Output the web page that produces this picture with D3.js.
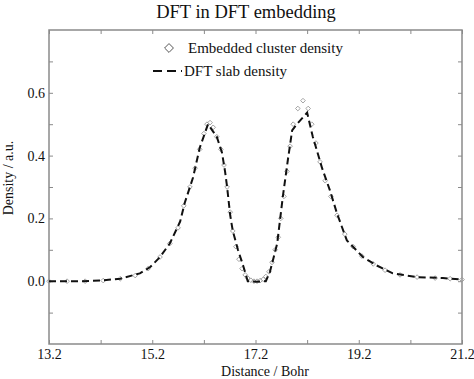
<!DOCTYPE html>
<html><head><meta charset="utf-8">
<script src="https://cdn.jsdelivr.net/npm/d3@7"></script>
<style>
html,body{margin:0;padding:0;background:#fff;}
svg{display:block;}
text{font-family:"Liberation Serif","Times New Roman",serif;fill:#111;}
</style></head>
<body>
<script>
// ---- data ----
const slabX = [13.2,13.8,14.19,14.58,14.96,15.16,15.35,15.54,15.74,15.83,15.99,16.12,16.28,16.45,16.51,16.55,16.61,16.65,16.71,16.76,16.86,16.96,17.05,17.23,17.40,17.48,17.62,17.73,17.83,17.91,18.00,18.20,18.31,18.49,18.64,18.78,18.97,19.28,19.55,19.86,20.33,20.83,21.2];
const slabY = [0.0,0.0,0.002,0.008,0.025,0.045,0.077,0.12,0.19,0.25,0.33,0.425,0.50,0.46,0.43,0.41,0.35,0.30,0.21,0.16,0.10,0.05,0.0,-0.002,0.0,0.03,0.12,0.27,0.39,0.48,0.50,0.537,0.46,0.36,0.29,0.215,0.13,0.077,0.05,0.025,0.013,0.01,0.005];

const clusterX = [13.2,13.55,13.9,14.25,14.58,14.87,15.12,15.35,15.54,15.70,15.81,15.93,16.03,16.12,16.20,16.26,16.32,16.38,16.45,16.53,16.59,16.65,16.71,16.76,16.82,16.88,16.94,17.0,17.05,17.11,17.17,17.23,17.29,17.35,17.40,17.46,17.52,17.58,17.64,17.69,17.75,17.81,17.87,17.93,18.02,18.12,18.22,18.29,18.37,18.45,18.55,18.66,18.78,18.93,19.09,19.26,19.48,19.71,20.0,20.33,20.68,20.97,21.2];
const clusterY = [0.0,0.0,0.0,0.002,0.008,0.018,0.04,0.077,0.12,0.17,0.24,0.30,0.36,0.42,0.47,0.50,0.505,0.49,0.46,0.42,0.37,0.30,0.22,0.16,0.11,0.07,0.04,0.02,0.01,0.003,0.0,0.0,0.002,0.006,0.015,0.03,0.06,0.10,0.14,0.20,0.27,0.35,0.43,0.50,0.55,0.575,0.55,0.50,0.44,0.38,0.32,0.27,0.21,0.15,0.11,0.08,0.055,0.035,0.02,0.013,0.01,0.008,0.005];

const xMajorTicks = [13.2,15.2,17.2,19.2,21.2];
const xMinorTicks = [14.2,16.2,18.2,20.2];
const yMajorTicks = [0.0,0.2,0.4,0.6];
const yMinorTicks = [-0.1,0.1,0.3,0.5,0.7];

const title = "DFT in DFT embedding";
const xLabel = "Distance / Bohr";
const yLabel = "Density / a.u.";
const legendLabels = ["Embedded cluster density","DFT slab density"];

// ---- drawing ----
const W = 474, H = 379;
const L = 49, R = 462, T = 30, B = 344;
const svg = d3.select("body").append("svg").attr("width",W).attr("height",H);

const x = d3.scaleLinear().domain([13.2,21.2]).range([L,R]);
const y = d3.scaleLinear().domain([-0.2,0.8]).range([B,T]);

// frame
svg.append("rect").attr("x",L).attr("y",T).attr("width",R-L).attr("height",B-T)
  .attr("fill","none").attr("stroke","#8a8a8a").attr("stroke-width",1.5);

const tickLen = 4;
const fmt = d3.format(".1f");
// bottom axis
const gxb = svg.append("g").attr("transform",`translate(0,${B})`)
  .call(d3.axisBottom(x).tickValues(xMajorTicks).tickSize(-tickLen).tickPadding(5).tickFormat(fmt));
// top axis (ticks only)
svg.append("g").attr("transform",`translate(0,${T})`)
  .call(d3.axisTop(x).tickValues(xMajorTicks.concat(xMinorTicks)).tickSize(-tickLen).tickFormat(""));
svg.append("g").attr("transform",`translate(0,${B})`)
  .call(d3.axisBottom(x).tickValues(xMinorTicks).tickSize(-tickLen).tickFormat(""));
// left axis
svg.append("g").attr("transform",`translate(${L},0)`)
  .call(d3.axisLeft(y).tickValues(yMajorTicks).tickSize(-tickLen).tickPadding(4).tickFormat(fmt));
svg.append("g").attr("transform",`translate(${L},0)`)
  .call(d3.axisLeft(y).tickValues(yMinorTicks).tickSize(-tickLen).tickFormat(""));
// right axis
svg.append("g").attr("transform",`translate(${R},0)`)
  .call(d3.axisRight(y).tickValues(yMajorTicks.concat(yMinorTicks)).tickSize(-tickLen).tickFormat(""));

svg.selectAll(".domain").remove();
svg.selectAll(".tick line").attr("stroke","#8a8a8a").attr("stroke-width",1);
svg.selectAll(".tick text").style("font-family","'Liberation Serif',serif").style("font-size","14px").attr("fill","#111");

// title and axis labels
svg.append("text").attr("x",246).attr("y",18).attr("text-anchor","middle")
  .style("font-size","18.5px").text(title);
svg.append("text").attr("x",265).attr("y",376).attr("text-anchor","middle")
  .style("font-size","14px").text(xLabel);
svg.append("text").attr("transform","translate(13,178) rotate(-90)").attr("text-anchor","middle")
  .style("font-size","14px").text(yLabel);

// data
const diamond = d3.symbol().type(d3.symbolDiamond2).size(14);
const clusterPts = clusterX.map((v,i)=>[v,clusterY[i]]);
const slabPts = slabX.map((v,i)=>[v,slabY[i]]);

svg.append("g").selectAll("path").data(clusterPts).join("path")
  .attr("d",diamond).attr("transform",d=>`translate(${x(d[0])},${y(d[1])})`)
  .attr("fill","none").attr("stroke","#9a9a9a").attr("stroke-width",0.9);

svg.append("path").datum(slabPts)
  .attr("d",d3.line().x(d=>x(d[0])).y(d=>y(d[1])))
  .attr("fill","none").attr("stroke","#111").attr("stroke-width",2)
  .attr("stroke-dasharray","7,4");

// legend
svg.append("path").attr("d",d3.symbol().type(d3.symbolDiamond2).size(50))
  .attr("transform","translate(169,48)").attr("fill","none").attr("stroke","#555").attr("stroke-width",1);
svg.append("text").attr("x",188).attr("y",53).style("font-size","15px").text(legendLabels[0]);
svg.append("line").attr("x1",153).attr("x2",182).attr("y1",71).attr("y2",71)
  .attr("stroke","#111").attr("stroke-width",2.2).attr("stroke-dasharray","9,5");
svg.append("text").attr("x",184).attr("y",76).style("font-size","15px").text(legendLabels[1]);
</script>
</body></html>
